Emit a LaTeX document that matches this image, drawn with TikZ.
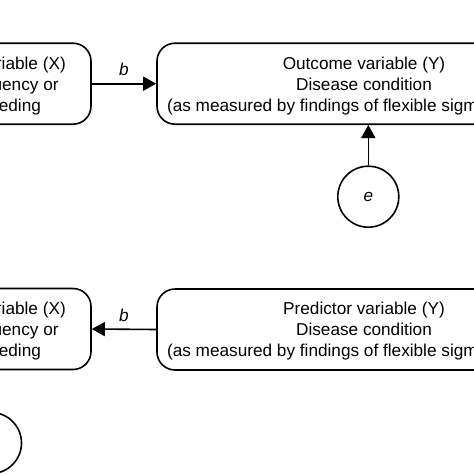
\documentclass[tikz,border=0pt]{standalone}
\usepackage{fontspec}
\setmainfont{Liberation Sans}
\usetikzlibrary{arrows.meta}
\begin{document}
\begin{tikzpicture}[x=1pt,y=-1pt,
  box/.style={draw, line width=1.6pt, rounded corners=18pt, inner sep=0pt, minimum height=81pt},
  txt/.style={align=center, inner sep=0pt, font=\fontsize{17.2}{21}\selectfont},
  arr/.style={line width=1.6pt, -{Triangle[length=13pt,width=14pt]}},
  lbl/.style={font=\fontsize{17.2}{21}\selectfont\itshape, inner sep=0pt, above=7pt},
  errc/.style={draw, circle, line width=1.6pt, minimum size=61pt, inner sep=0pt,
    font=\fontsize{17.2}{21}\selectfont\itshape}]
\useasboundingbox (0,0) rectangle (474,474);
\fill[white] (0,0) rectangle (474,474);
\clip (0,0) rectangle (474,474);
% top model
\node[box, minimum width=212pt] (x1) at (-15,83.7) {};
\node[txt] (x1t) at ([yshift=-2.5pt]x1.center) {Predictor variable (X)\\Bowel frequency or\\rectal bleeding};
\node[box, minimum width=414pt] (y1) at (364,83.7) {};
\node[txt] (y1t) at ([yshift=-2.5pt]y1.center) {Outcome variable (Y)\\Disease condition\\(as measured by findings of flexible sigmoidoscopy)};
\draw[arr] (x1.east) -- (y1.west) node[midway, lbl] (b1) {b};
\node[errc] (e1) at (368.3,196.7) {e};
\draw[arr] (e1.north) -- (e1.north |- y1.south);
% bottom model
\node[box, minimum width=212pt] (x2) at (-15,329) {};
\node[txt] (x2t) at ([yshift=-2.5pt]x2.center) {Predictor variable (X)\\Bowel frequency or\\rectal bleeding};
\node[box, minimum width=414pt] (y2) at (364,329.5) {};
\node[txt] (y2t) at ([yshift=-2pt]y2.center) {Predictor variable (Y)\\Disease condition\\(as measured by findings of flexible sigmoidoscopy)};
\draw[arr] (y2.west) -- (x2.east) node[midway, lbl] (b2) {b};
\node[errc] (e2) at (-9,443) {e};
\end{tikzpicture}
\end{document}
